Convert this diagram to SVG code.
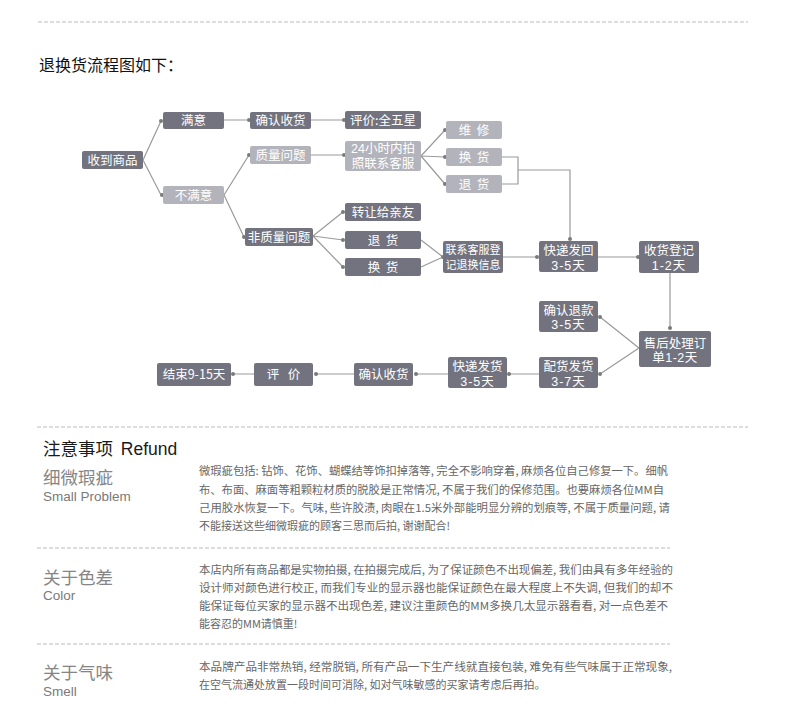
<svg xmlns="http://www.w3.org/2000/svg" width="790" height="718" viewBox="0 0 790 718">
<style>
.d{fill:#72737f}
.l{fill:#b3b4bb}
.t{font-family:"Noto Sans CJK SC","Liberation Sans",sans-serif;font-size:12.5px;fill:#fff;text-anchor:middle}
.t2{font-family:"Liberation Sans","Noto Sans CJK SC",sans-serif;font-size:12.5px;fill:#fff;text-anchor:middle}
.s{font-size:11px}
.c{stroke:#9a9a9a;stroke-width:1.2;fill:none}
.dot{fill:#7a7a7a}
.dash{stroke:#bbb;stroke-width:1;stroke-dasharray:4,2}
.h{font-family:"Noto Sans CJK SC",sans-serif;font-size:17.5px;fill:#858585}
.e{font-family:"Liberation Sans",Arial,sans-serif;font-size:13.5px;fill:#7a7a7a}
.p{font-family:"Noto Sans CJK SC",sans-serif;font-size:11px;fill:#666}
</style>
<rect width="790" height="718" fill="#fff"/>
<line class="dash" x1="38" y1="22" x2="748" y2="22"/>
<text x="39" y="71" font-family="Noto Sans CJK SC,sans-serif" font-size="16" fill="#111">退换货流程图如下：</text>

<g id="connectors">
<path class="c" d="M143,160 L161,121 M143,160 L161,195 M224,120 H249 M311,120 H344 M224,195 L249,155 M224,195 L244,237 M311,155 H344 M421,156 L445,130 M421,156 L445,157 M421,156 L445,184 M313,236 L343,212 M313,236 L343,240 M313,236 L343,267 M421,240 L443,257 M421,267 L443,257 M503,257 H537 M502,157 H518 V184 H502 M518,170 H570 V239 M598,257 H638 M670,273 V329 M639,348 L600,317 M639,348 L600,374 M539,374 H509 M448,374 H416 M354,374 H316 M254,374 H233"/>
<g class="dot">
<circle cx="161" cy="121" r="2"/><circle cx="162" cy="195" r="2"/><circle cx="249" cy="120" r="2"/><circle cx="344" cy="120" r="2"/>
<circle cx="249" cy="155" r="2"/><circle cx="244" cy="237" r="2"/><circle cx="344" cy="155" r="2"/>
<circle cx="445" cy="130" r="2"/><circle cx="445" cy="157" r="2"/><circle cx="445" cy="184" r="2"/>
<circle cx="343" cy="212" r="2"/><circle cx="343" cy="240" r="2"/><circle cx="343" cy="267" r="2"/>
<circle cx="443" cy="257" r="2"/><circle cx="537" cy="257" r="2"/><circle cx="570" cy="239" r="2"/><circle cx="638" cy="257" r="2"/>
<circle cx="670" cy="328" r="2"/><circle cx="600" cy="317" r="2"/><circle cx="600" cy="374" r="2"/>
<circle cx="509" cy="374" r="2"/><circle cx="416" cy="374" r="2"/><circle cx="316" cy="374" r="2"/><circle cx="233" cy="374" r="2"/>
</g>
</g>

<g id="n1"><rect class="d" x="82" y="151" width="61" height="18" rx="2"/><text class="t" x="112.5" y="164.7">收到商品</text></g>
<g id="n2"><rect class="d" x="163" y="112" width="61" height="17" rx="2"/><text class="t" x="193.5" y="125.2">满意</text></g>
<g id="n3"><rect class="d" x="250" y="112" width="61" height="17" rx="2"/><text class="t" x="280.5" y="125.2">确认收货</text></g>
<g id="n4"><rect class="d" x="345" y="111" width="76" height="18" rx="2"/><text class="t" x="383" y="124.7">评价:全五星</text></g>
<g id="n5"><rect class="l" x="163" y="186" width="61" height="18" rx="2"/><text class="t" x="193.5" y="199.7">不满意</text></g>
<g id="n6"><rect class="l" x="250" y="146" width="61" height="18" rx="2"/><text class="t" x="280.5" y="159.7">质量问题</text></g>
<g id="n7"><rect class="l" x="345" y="141" width="76" height="30" rx="2"/><text class="t2" x="383" y="153" font-size="12">24小时内拍<tspan x="383" dy="14.5">照联系客服</tspan></text></g>
<g id="n8"><rect class="l" x="446" y="121" width="56" height="18" rx="2"/><text class="t" x="474" y="134.7" xml:space="preserve">维  修</text></g>
<g id="n9"><rect class="l" x="446" y="148" width="56" height="18" rx="2"/><text class="t" x="474" y="161.7" xml:space="preserve">换  货</text></g>
<g id="n10"><rect class="l" x="446" y="175" width="56" height="18" rx="2"/><text class="t" x="474" y="188.7" xml:space="preserve">退  货</text></g>
<g id="n11"><rect class="d" x="245" y="228" width="68" height="18" rx="2"/><text class="t" x="279" y="241.7">非质量问题</text></g>
<g id="n12"><rect class="d" x="345" y="203" width="76" height="18" rx="2"/><text class="t" x="383" y="216.7">转让给亲友</text></g>
<g id="n13"><rect class="d" x="345" y="231" width="76" height="18" rx="2"/><text class="t" x="383" y="244.7" xml:space="preserve">退  货</text></g>
<g id="n14"><rect class="d" x="345" y="258" width="76" height="18" rx="2"/><text class="t" x="383" y="271.7" xml:space="preserve">换  货</text></g>
<g id="n15"><rect class="d" x="443" y="241" width="60" height="32" rx="2"/><text class="t2 s" x="473" y="254">联系客服登<tspan x="473" dy="14.5">记退换信息</tspan></text></g>
<g id="n16"><rect class="d" x="539" y="241" width="59" height="31" rx="2"/><text class="t2" x="568.5" y="255">快递发回<tspan x="568.5" dy="14.5" letter-spacing="1">3-5天</tspan></text></g>
<g id="n17"><rect class="d" x="639" y="241" width="60" height="32" rx="2"/><text class="t2" x="669" y="255">收货登记<tspan x="669" dy="14.5" letter-spacing="1">1-2天</tspan></text></g>
<g id="n18"><rect class="d" x="639" y="331" width="72" height="36" rx="2"/><text class="t2" x="675" y="347.5">售后处理订<tspan x="675" dy="14" letter-spacing="0.5">单1-2天</tspan></text></g>
<g id="n19"><rect class="d" x="539" y="301" width="59" height="31" rx="2"/><text class="t2" x="568.5" y="314.5">确认退款<tspan x="568.5" dy="14.5" letter-spacing="1">3-5天</tspan></text></g>
<g id="n20"><rect class="d" x="539" y="357" width="59" height="31" rx="2"/><text class="t2" x="568.5" y="371">配货发货<tspan x="568.5" dy="14.5" letter-spacing="1">3-7天</tspan></text></g>
<g id="n21"><rect class="d" x="448" y="357" width="59" height="31" rx="2"/><text class="t2" x="477.5" y="371">快递发货<tspan x="477.5" dy="14.5" letter-spacing="1">3-5天</tspan></text></g>
<g id="n22"><rect class="d" x="354" y="363" width="59" height="23" rx="2"/><text class="t" x="383.5" y="379.2">确认收货</text></g>
<g id="n23"><rect class="d" x="254" y="363" width="59" height="23" rx="2"/><text class="t" x="283.5" y="379.2" xml:space="preserve">评   价</text></g>
<g id="n24"><rect class="d" x="157" y="363" width="74" height="23" rx="2"/><text class="t" x="194" y="379.2">结束9-15天</text></g>

<line class="dash" x1="37" y1="427" x2="748" y2="427"/>
<text x="43" y="455" font-family="Noto Sans CJK SC,sans-serif" font-size="17.5" fill="#1a1a1a" xml:space="preserve">注意事项  <tspan font-family="Liberation Sans,Arial,sans-serif">Refund</tspan></text>

<text class="h" x="43" y="484">细微瑕疵</text>
<text class="e" x="43" y="501">Small Problem</text>
<text class="p" x="199" y="475" textLength="469" lengthAdjust="spacingAndGlyphs">微瑕疵包括: 钻饰、花饰、蝴蝶结等饰扣掉落等, 完全不影响穿着, 麻烦各位自己修复一下。细帆</text>
<text class="p" x="199" y="494" textLength="465" lengthAdjust="spacingAndGlyphs">布、布面、麻面等粗颗粒材质的脱胶是正常情况, 不属于我们的保修范围。也要麻烦各位MM自</text>
<text class="p" x="199" y="512" textLength="471" lengthAdjust="spacingAndGlyphs">己用胶水恢复一下。气味, 些许胶渍, 肉眼在1.5米外部能明显分辨的划痕等, 不属于质量问题, 请</text>
<text class="p" x="199" y="530">不能接送这些细微瑕疵的顾客三思而后拍, 谢谢配合!</text>

<line class="dash" x1="37" y1="548" x2="670" y2="548"/>
<text class="h" x="43" y="584">关于色差</text>
<text class="e" x="43" y="600">Color</text>
<text class="p" x="199" y="574" textLength="474" lengthAdjust="spacingAndGlyphs">本店内所有商品都是实物拍摄, 在拍摄完成后, 为了保证颜色不出现偏差, 我们由具有多年经验的</text>
<text class="p" x="199" y="592" textLength="474" lengthAdjust="spacingAndGlyphs">设计师对颜色进行校正, 而我们专业的显示器也能保证颜色在最大程度上不失调, 但我们的却不</text>
<text class="p" x="199" y="610" textLength="469" lengthAdjust="spacingAndGlyphs">能保证每位买家的显示器不出现色差, 建议注重颜色的MM多换几太显示器看看, 对一点色差不</text>
<text class="p" x="199" y="628">能容忍的MM请慎重!</text>

<line class="dash" x1="37" y1="644" x2="670" y2="644"/>
<text class="h" x="43" y="679">关于气味</text>
<text class="e" x="43" y="696">Smell</text>
<text class="p" x="199" y="671" textLength="473" lengthAdjust="spacingAndGlyphs">本品牌产品非常热销, 经常脱销, 所有产品一下生产线就直接包装, 难免有些气味属于正常现象,</text>
<text class="p" x="199" y="689">在空气流通处放置一段时间可消除, 如对气味敏感的买家请考虑后再拍。</text>
</svg>
